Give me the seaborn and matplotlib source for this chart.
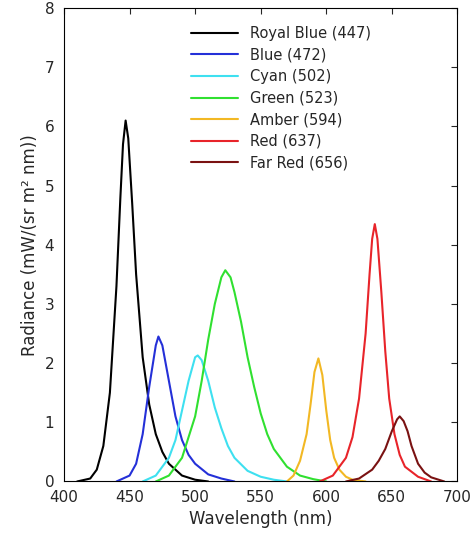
import matplotlib
matplotlib.use("Agg")
import matplotlib.pyplot as plt
import seaborn as sns
import pandas as pd

names = ["Royal Blue (447)", "Blue (472)", "Cyan (502)", "Green (523)", "Amber (594)", "Red (637)", "Far Red (656)"]
colors = ["#000000", "#2430d8", "#3ee0f0", "#30e030", "#f2b824", "#e8242a", "#7a1212"]

rb_x = [410, 420, 425, 430, 435, 440, 443, 445, 447, 449, 452, 455, 460, 465, 470, 475, 480, 490, 500, 510]
rb_y = [0, 0.05, 0.2, 0.6, 1.5, 3.3, 4.8, 5.7, 6.1, 5.8, 4.7, 3.5, 2.1, 1.3, 0.8, 0.5, 0.3, 0.1, 0.03, 0]
b_x = [440, 450, 455, 460, 465, 470, 472, 475, 480, 485, 490, 495, 500, 510, 520, 530]
b_y = [0, 0.1, 0.3, 0.8, 1.6, 2.3, 2.45, 2.3, 1.7, 1.1, 0.7, 0.45, 0.3, 0.12, 0.05, 0]
c_x = [460, 470, 480, 485, 490, 495, 500, 502, 505, 510, 515, 520, 525, 530, 540, 550, 560, 570]
c_y = [0, 0.1, 0.4, 0.7, 1.2, 1.7, 2.1, 2.13, 2.05, 1.7, 1.25, 0.9, 0.6, 0.4, 0.18, 0.08, 0.03, 0]
g_x = [470, 480, 490, 500, 505, 510, 515, 520, 523, 527, 530, 535, 540, 545, 550, 555, 560, 570, 580, 590, 600]
g_y = [0, 0.1, 0.4, 1.1, 1.7, 2.4, 3.0, 3.45, 3.57, 3.45, 3.2, 2.7, 2.1, 1.6, 1.15, 0.8, 0.55, 0.25, 0.1, 0.04, 0]
a_x = [570, 575, 580, 585, 588, 591, 594, 597, 600, 603, 606, 610, 615, 620, 630]
a_y = [0, 0.1, 0.35, 0.8, 1.3, 1.85, 2.08, 1.8, 1.2, 0.7, 0.4, 0.2, 0.08, 0.03, 0]
r_x = [595, 605, 615, 620, 625, 630, 633, 635, 637, 639, 642, 645, 648, 652, 656, 660, 670, 680]
r_y = [0, 0.1, 0.4, 0.75, 1.4, 2.5, 3.5, 4.1, 4.35, 4.1, 3.2, 2.2, 1.4, 0.8, 0.45, 0.25, 0.08, 0]
fr_x = [615, 625, 635, 640, 645, 650, 654, 656, 659, 662, 665, 670, 675, 680, 690]
fr_y = [0, 0.05, 0.2, 0.35, 0.55, 0.85, 1.05, 1.1, 1.02, 0.85, 0.6, 0.3, 0.15, 0.07, 0]

xs = [rb_x, b_x, c_x, g_x, a_x, r_x, fr_x]
ys = [rb_y, b_y, c_y, g_y, a_y, r_y, fr_y]

sns.set_style("white")
plt.rcParams['font.family'] = ['DejaVu Sans']
fig, ax = plt.subplots(figsize=(4.74, 5.41), dpi=100)
for n, c, x, y in zip(names, colors, xs, ys):
    df = pd.DataFrame({"Wavelength": x, "Radiance": y})
    sns.lineplot(data=df, x="Wavelength", y="Radiance", color=c, label=n, ax=ax, lw=1.5)

ax.set_xlim(400, 700)
ax.set_ylim(0, 8)
ax.set_xticks(range(400, 701, 50))
ax.set_yticks(range(0, 9))
ax.tick_params(direction="in", labelsize=11, top=True, right=True, length=4)
ax.tick_params(axis="x", pad=6)
ax.tick_params(axis="y", pad=7)
ax.set_xlabel("Wavelength (nm)", fontsize=12)
ax.set_ylabel("Radiance (mW/(sr m² nm))", fontsize=12)
for s in ax.spines.values():
    s.set_color("black"); s.set_linewidth(0.8)
ax.legend(loc="upper left", bbox_to_anchor=(0.29, 0.99), frameon=False, fontsize=10.5,
          handlelength=3.2, labelspacing=0.45)
fig.subplots_adjust(left=0.135, right=0.965, bottom=0.11, top=0.985)
fig.savefig("out.png", dpi=100)
